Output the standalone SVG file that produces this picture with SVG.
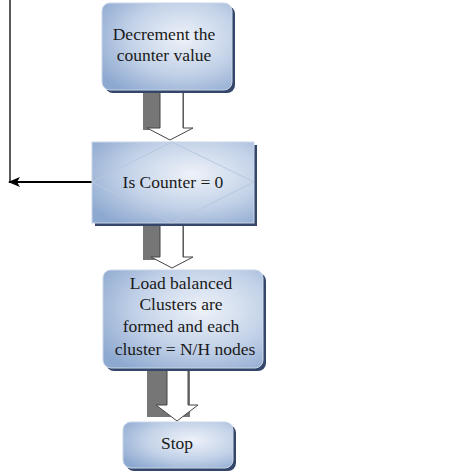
<svg xmlns="http://www.w3.org/2000/svg" width="474" height="474" viewBox="0 0 474 474">
<style>
.lbl{font-family:"Liberation Serif","Times New Roman",serif;font-size:17.5px;fill:#1a1a1a;text-anchor:middle}
.shadow{fill:#34476b}
.box{fill:url(#g);stroke:#c9d6e8;stroke-width:1}
.gray{fill:#767676}
.warrow{fill:#ffffff;stroke:#444;stroke-width:1}
.conn{stroke:#000;fill:none}
</style>
<defs>
<radialGradient id="g" cx="0.62" cy="0.4" r="0.75">
<stop offset="0" stop-color="#eef2f9"/>
<stop offset="0.55" stop-color="#c3d2e8"/>
<stop offset="1" stop-color="#8ea9d0"/>
</radialGradient>
<marker id="ah" markerWidth="12" markerHeight="10" refX="11" refY="5" orient="auto" markerUnits="userSpaceOnUse">
<path d="M0,0 L12,5 L0,10 L3,5 Z" fill="#000"/>
</marker>
</defs>
<rect width="474" height="474" fill="#fff"/>

<g id="connectors">
<path class="conn" d="M10,0 L10,182" stroke-width="1.3"/>
<path class="conn" d="M95,182 L9,182" stroke-width="2.2" marker-end="url(#ah)"/>
<g id="blockarrow1">
<rect class="gray" x="143" y="84" width="41" height="46"/>
<path class="warrow" d="M160,88 L183,88 L183,128 L193,128 L170,140 L147,128 L160,128 Z"/>
</g>
<g id="blockarrow2">
<rect class="gray" x="143" y="214" width="41" height="46"/>
<path class="warrow" d="M160,218 L183,218 L183,257 L193,257 L172,268 L151,257 L160,257 Z"/>
</g>
<g id="blockarrow3">
<rect class="gray" x="147" y="363" width="43" height="54"/>
<path class="warrow" d="M167,367 L188,367 L188,405 L198,405 L177,421 L156,405 L167,405 Z"/>
</g>
</g>

<g id="node-decrement">
<rect class="shadow" x="105" y="6" width="130" height="87" rx="8"/>
<rect class="box" x="102" y="3" width="130" height="87" rx="8"/>
<text class="lbl" x="164" y="40">Decrement the</text>
<text class="lbl" x="164" y="61">counter value</text>
</g>

<g id="node-decision">
<rect class="shadow" x="95" y="145" width="162" height="81"/>
<rect class="box" x="92" y="142" width="162" height="81"/>
<path d="M172,142 L254,182 L172,223 L92,182 Z" fill="none" stroke="#b8c8de" stroke-width="1"/>
<text class="lbl" x="173" y="188">Is Counter = 0</text>
</g>

<g id="node-load">
<rect class="shadow" x="106" y="273" width="160" height="98" rx="8"/>
<rect class="box" x="103" y="270" width="160" height="98" rx="8"/>
<text class="lbl" x="181" y="289">Load balanced</text>
<text class="lbl" x="181" y="310">Clusters are</text>
<text class="lbl" x="181" y="332">formed and each</text>
<text class="lbl" x="185" y="355">cluster = N/H nodes</text>
</g>

<g id="node-stop">
<rect class="shadow" x="126" y="425" width="110" height="46" rx="8"/>
<rect class="box" x="123" y="422" width="110" height="46" rx="8"/>
<text class="lbl" x="177" y="449">Stop</text>
</g>
</svg>
